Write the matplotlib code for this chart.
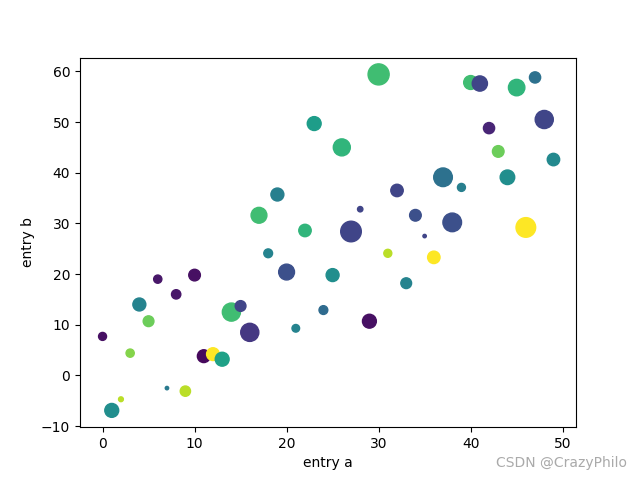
import matplotlib
matplotlib.use("Agg")
import matplotlib.pyplot as plt

a = list(range(50))
b = [7.7, -6.9, -4.7, 4.4, 14.0, 10.7, 19.0, -2.5, 16.0, -3.1,
     19.8, 3.8, 4.2, 3.2, 12.5, 13.7, 8.5, 31.6, 24.1, 35.7,
     20.4, 9.3, 28.6, 49.7, 12.9, 19.8, 45.0, 28.4, 32.8, 10.7,
     59.4, 24.1, 36.5, 18.2, 31.6, 27.5, 23.3, 39.1, 30.2, 37.1,
     57.8, 57.6, 48.8, 44.2, 39.1, 56.8, 29.2, 58.8, 50.5, 42.6]
c = [2, 24, 44, 40, 22, 38, 3, 20, 3, 44,
     2, 1, 49, 28, 34, 10, 8, 34, 22, 21,
     12, 22, 32, 27, 17, 24, 32, 10, 10, 2,
     34, 44, 10, 22, 12, 10, 49, 18, 12, 21,
     34, 10, 5, 38, 24, 32, 49, 18, 10, 23]
d = [33, 100, 12, 35, 87, 60, 35, 6, 45, 55,
     70, 85, 85, 100, 170, 60, 170, 130, 40, 87,
     130, 30, 80, 100, 40, 87, 150, 220, 15, 100,
     230, 33, 80, 60, 70, 6, 80, 180, 180, 33,
     100, 120, 65, 70, 110, 140, 200, 65, 170, 80]

fig, ax = plt.subplots(figsize=(6.4, 4.8), dpi=100)
ax.scatter(a, b, c=c, s=d, cmap='viridis', vmin=0, vmax=49)
ax.set_xlabel('entry a')
ax.set_ylabel('entry b')
fig.text(0.98, 0.02, 'CSDN @CrazyPhilo', ha='right', va='bottom', color='#aaaaaa', fontsize=10)
fig.savefig('out.png')
